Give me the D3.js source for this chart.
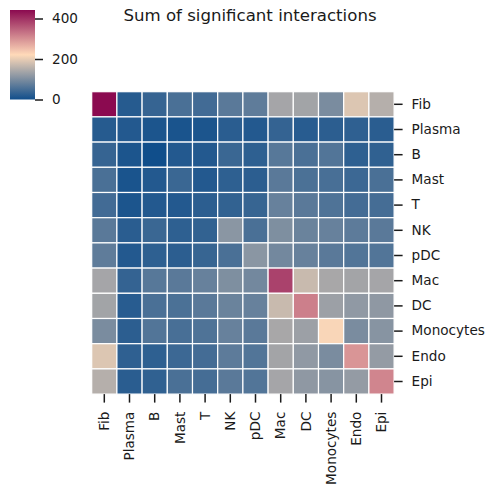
<!DOCTYPE html>
<html lang="en">
<head>
	<meta charset="UTF-8">
	<title>Sum of significant interactions</title>
	<script src="https://cdn.jsdelivr.net/npm/d3@7"></script>
	<style>
		body { margin: 0; background: #fff; }
		text { font-family: "DejaVu Sans", sans-serif; fill: #1a1a1a; }
		.tick line { stroke: #1a1a1a; stroke-width: 1.5px; }
	</style>
</head>
<body>
	<div id="container"></div>
	<script>
		// cell types, same order on both axes
		var cellTypes = ["Fib", "Plasma", "B", "Mast", "T", "NK", "pDC", "Mac", "DC", "Monocytes", "Endo", "Epi"];

		// sum of significant interactions, one array per row
		var rowFib       = [442, 20, 35, 54, 46, 68, 73, 138, 135, 98, 189, 153];
		var rowPlasma    = [20, 18, 11, 9, 11, 24, 18, 33, 22, 26, 29, 24];
		var rowB         = [35, 11, 0, 18, 18, 39, 28, 66, 54, 61, 28, 30];
		var rowMast      = [54, 9, 18, 39, 18, 28, 26, 68, 55, 52, 41, 54];
		var rowT         = [46, 11, 18, 18, 26, 31, 36, 80, 68, 58, 48, 49];
		var rowNK        = [68, 24, 39, 28, 31, 113, 54, 102, 83, 80, 71, 68];
		var rowPDC       = [73, 18, 28, 26, 36, 54, 113, 92, 80, 68, 61, 61];
		var rowMac       = [138, 33, 66, 68, 80, 102, 92, 383, 170, 141, 136, 138];
		var rowDC        = [135, 22, 54, 55, 68, 83, 80, 170, 318, 129, 118, 117];
		var rowMonocytes = [98, 26, 61, 52, 58, 80, 68, 141, 129, 215, 98, 110];
		var rowEndo      = [189, 29, 28, 41, 48, 71, 61, 136, 118, 98, 294, 122];
		var rowEpi       = [153, 24, 30, 54, 49, 68, 61, 138, 117, 110, 122, 311];

		var colorbarTicks = [0, 200, 400];

		var rows = [rowFib, rowPlasma, rowB, rowMast, rowT, rowNK, rowPDC,
			rowMac, rowDC, rowMonocytes, rowEndo, rowEpi];

		var cells = [];
		rows.forEach(function(r, i) {
			r.forEach(function(v, j) {
				cells.push({ row: cellTypes[i], col: cellTypes[j], value: v });
			});
		});

		var width = 495, height = 495;
		var vmin = d3.min(cells, function(d) { return d.value; });
		var vmax = d3.max(cells, function(d) { return d.value; });

		// dodgerblue4 -> peachpuff -> deeppink4
		var color = d3.scaleLinear()
			.domain([vmin, (vmin + vmax) / 2, vmax])
			.range(["#104E8B", "#FFDAB9", "#8B0A50"])
			.interpolate(d3.interpolateRgb);

		var svg = d3.select("#container").append("svg")
			.attr("width", width)
			.attr("height", height);

		svg.append("rect").attr("width", width).attr("height", height).attr("fill", "#fff");

		var x = d3.scaleBand().domain(cellTypes).range([91.7, 394.1]);
		var y = d3.scaleBand().domain(cellTypes).range([91.7, 394.1]);

		svg.append("g").selectAll("rect")
			.data(cells)
			.enter().append("rect")
				.attr("x", function(d) { return x(d.col); })
				.attr("y", function(d) { return y(d.row); })
				.attr("width", x.bandwidth())
				.attr("height", y.bandwidth())
				.attr("fill", function(d) { return color(d.value); })
				.attr("stroke", "#fff")
				.attr("stroke-width", 1.2);

		// right axis (row labels)
		var yAxis = svg.append("g")
			.attr("transform", "translate(394.1,0)")
			.call(d3.axisRight(y).tickSize(8.5).tickPadding(9));
		yAxis.select(".domain").remove();
		yAxis.selectAll("text").style("font-size", "13.6px").attr("fill", "#1a1a1a");

		// bottom axis (column labels, rotated)
		var xAxis = svg.append("g")
			.attr("transform", "translate(0,394.1)")
			.call(d3.axisBottom(x).tickSize(8.5).tickPadding(9));
		xAxis.select(".domain").remove();
		xAxis.selectAll("text")
			.style("font-size", "13.6px")
			.attr("fill", "#1a1a1a")
			.attr("transform", "rotate(-90)")
			.attr("x", -17.5)
			.attr("y", 0)
			.attr("dy", "0.35em")
			.style("text-anchor", "end");

		// colorbar
		var cb = { x: 10, y: 10, w: 25, h: 89.5 };
		var grad = svg.append("defs").append("linearGradient")
			.attr("id", "cbar")
			.attr("x1", 0).attr("y1", 1).attr("x2", 0).attr("y2", 0);
		d3.range(0, 1.0001, 0.05).forEach(function(t) {
			grad.append("stop")
				.attr("offset", t)
				.attr("stop-color", color(vmin + t * (vmax - vmin)));
		});
		svg.append("rect")
			.attr("x", cb.x).attr("y", cb.y)
			.attr("width", cb.w).attr("height", cb.h)
			.attr("fill", "url(#cbar)");

		var cbScale = d3.scaleLinear().domain([vmin, vmax]).range([cb.y + cb.h, cb.y]);
		var cbAxis = svg.append("g")
			.attr("transform", "translate(" + (cb.x + cb.w) + ",0)")
			.call(d3.axisRight(cbScale).tickValues(colorbarTicks).tickSize(8).tickPadding(9));
		cbAxis.select(".domain").remove();
		cbAxis.selectAll("text").style("font-size", "13.6px").attr("fill", "#1a1a1a");

		svg.append("text")
			.attr("x", 250)
			.attr("y", 21)
			.attr("text-anchor", "middle")
			.style("font-size", "16.6px")
			.text("Sum of significant interactions");
	</script>
</body>
</html>
